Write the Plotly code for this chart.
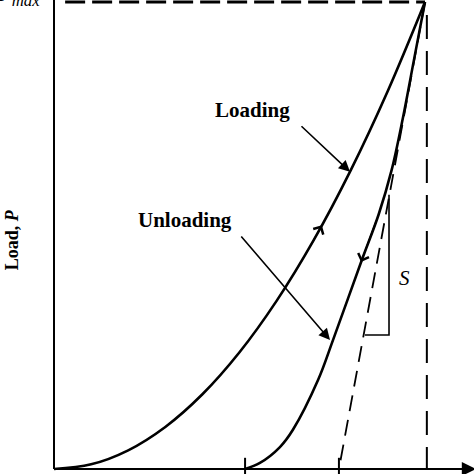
import plotly.graph_objects as go

# indentation load-displacement curve (normalised: h / h_max, P / P_max)
load_h = [0.0, 0.1, 0.2, 0.3, 0.4, 0.5, 0.6, 0.7, 0.8, 0.9, 1.0]
load_p = [0.0, 0.01, 0.04, 0.09, 0.16, 0.25, 0.36, 0.49, 0.64, 0.81, 1.0]

unload_h = [0.515, 0.555, 0.609, 0.644, 0.712, 0.752, 0.830, 0.875, 0.910, 0.940, 0.970, 1.0]
unload_p = [0.0, 0.013, 0.047, 0.084, 0.191, 0.276, 0.448, 0.545, 0.640, 0.750, 0.875, 1.0]

h_max = 1.0
p_max = 1.0
h_f = 0.515      # final depth
h_c = 0.768      # tangent intercept
h_max_line = 1.005
tick_h = [h_f, h_c]

# stiffness triangle
s_h = [0.903, 0.903, 0.838]
s_p = [0.587, 0.287, 0.287]

FONT = 'Liberation Serif'

fig = go.Figure()

# axes
fig.add_trace(go.Scatter(x=[0, 0], y=[0, 1.01], mode='lines',
                         line=dict(color='black', width=2)))
fig.add_trace(go.Scatter(x=[0, 1.10], y=[0, 0], mode='lines',
                         line=dict(color='black', width=2)))
fig.add_trace(go.Scatter(x=tick_h, y=[0, 0], mode='markers',
                         marker=dict(symbol='line-ns-open', size=16, color='black',
                                     line=dict(color='black', width=2))))

# reference dashed lines
fig.add_trace(go.Scatter(x=[0.03, h_max], y=[p_max, p_max], mode='lines',
                         line=dict(color='black', width=3, dash='20px,7px')))
fig.add_trace(go.Scatter(x=[h_max_line, h_max_line], y=[0.972, 0], mode='lines',
                         line=dict(color='black', width=2, dash='24px,12px')))
fig.add_trace(go.Scatter(x=[h_max, h_c], y=[p_max, 0], mode='lines',
                         line=dict(color='black', width=1.8, dash='16px,9px')))

# curves
fig.add_trace(go.Scatter(x=load_h, y=load_p, mode='lines', line_shape='spline',
                         line=dict(color='black', width=2.6)))
fig.add_trace(go.Scatter(x=unload_h, y=unload_p, mode='lines', line_shape='spline',
                         line=dict(color='black', width=2.6)))

# S triangle
fig.add_trace(go.Scatter(x=s_h, y=s_p, mode='lines',
                         line=dict(color='black', width=1.6)))

ann = []
# x axis arrow
ann.append(dict(x=1.137, y=0, ax=1.0, ay=0, xref='x', yref='y', axref='x', ayref='y',
                showarrow=True, arrowhead=2, arrowsize=1.4, arrowwidth=2,
                arrowcolor='black', text=''))
# direction chevrons on curves
ann.append(dict(x=0.722, y=0.522, ax=0.69, ay=0.476, xref='x', yref='y',
                axref='x', ayref='y', showarrow=True, arrowhead=4, arrowsize=1.7,
                arrowwidth=1.3, arrowcolor='black', text=''))
ann.append(dict(x=0.8275, y=0.443, ax=0.87, ay=0.535, xref='x', yref='y',
                axref='x', ayref='y', showarrow=True, arrowhead=4, arrowsize=1.7,
                arrowwidth=1.3, arrowcolor='black', text=''))
# label arrows
ann.append(dict(x=0.7978, y=0.6364, ax=0.663, ay=0.737, xref='x', yref='y',
                axref='x', ayref='y', showarrow=True, arrowhead=2, arrowsize=1.4,
                arrowwidth=1.6, arrowcolor='black', text=''))
ann.append(dict(x=0.7439, y=0.2762, ax=0.5013, ay=0.501, xref='x', yref='y',
                axref='x', ayref='y', showarrow=True, arrowhead=2, arrowsize=1.4,
                arrowwidth=1.6, arrowcolor='black', text=''))
# texts
ann.append(dict(x=0.536, y=0.769, xref='x', yref='y', showarrow=False,
                text='<b>Loading</b>', font=dict(family=FONT, size=21, color='black')))
ann.append(dict(x=0.353, y=0.533, xref='x', yref='y', showarrow=False,
                text='<b>Unloading</b>', font=dict(family=FONT, size=21, color='black')))
ann.append(dict(x=0.946, y=0.409, xref='x', yref='y', showarrow=False,
                text='<i>S</i>', font=dict(family=FONT, size=21, color='black')))
ann.append(dict(x=-0.113, y=0.49, xref='x', yref='y', showarrow=False, textangle=-90,
                text='<b>Load, <i>P</i></b>', font=dict(family=FONT, size=18, color='black')))
ann.append(dict(x=-0.032, y=0.978, xref='x', yref='y', showarrow=False,
                xanchor='right', yanchor='bottom',
                text='<i>P<sub>max</sub></i>', font=dict(family=FONT, size=24, color='black')))
fig.update_layout(annotations=ann)

fig.update_xaxes(visible=False, range=[-54 / 371, 420 / 371])
fig.update_yaxes(visible=False, range=[-5 / 467, 469 / 467])
fig.update_layout(width=474, height=474, margin=dict(l=0, r=0, t=0, b=0),
                  showlegend=False, plot_bgcolor='white', paper_bgcolor='white')

# page body has a default 8px margin; drop it so the figure fills the window
fig.write_html('out.html', config={'displayModeBar': False},
               post_script="document.body.style.margin='0';")
